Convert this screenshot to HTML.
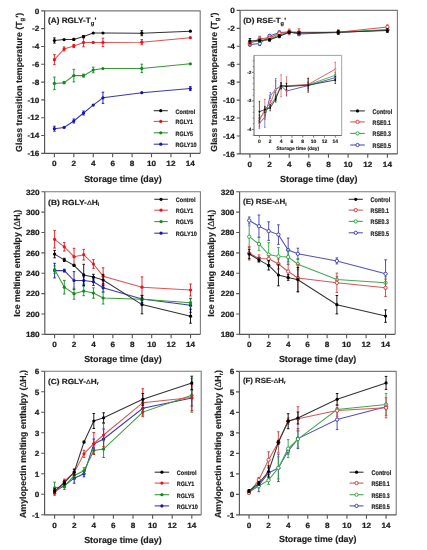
<!DOCTYPE html>
<html><head><meta charset="utf-8"><title>Storage time charts</title>
<style>
html,body{margin:0;padding:0;background:#fff;}
body{width:427px;height:550px;overflow:hidden;}
svg{display:block;filter:blur(0.3px);}
svg text{font-family:"Liberation Sans", sans-serif;text-rendering:geometricPrecision;}
</style></head>
<body>
<svg width="427" height="550" viewBox="0 0 427 550" font-family='"Liberation Sans", sans-serif'>
<rect width="427" height="550" fill="#fff"/>
<g>
<path d="M44.6 10.85H200.2V153.35" fill="none" stroke="#7a7a7a" stroke-width="1.1"/>
<path d="M44.6 10.85V153.35H200.2" fill="none" stroke="#555" stroke-width="1.15"/>
<path d="M41.2 10.85H44.6M41.2 28.66H44.6M41.2 46.48H44.6M41.2 64.29H44.6M41.2 82.1H44.6M41.2 99.91H44.6M41.2 117.72H44.6M41.2 135.54H44.6M41.2 153.35H44.6M54.4 153.35V157.25M73.82 153.35V157.25M93.24 153.35V157.25M112.66 153.35V157.25M132.08 153.35V157.25M151.5 153.35V157.25M170.92 153.35V157.25M190.34 153.35V157.25" stroke="#555" stroke-width="1.1"/>
<text transform="translate(39.4 10.85) scale(1 0.92)" y="2.94" text-anchor="end" font-size="8.2" font-weight="bold" fill="#1e1e1e" stroke="#1e1e1e" stroke-width="0.25">0</text>
<text transform="translate(39.4 28.66) scale(1 0.92)" y="2.94" text-anchor="end" font-size="8.2" font-weight="bold" fill="#1e1e1e" stroke="#1e1e1e" stroke-width="0.25">-2</text>
<text transform="translate(39.4 46.48) scale(1 0.92)" y="2.94" text-anchor="end" font-size="8.2" font-weight="bold" fill="#1e1e1e" stroke="#1e1e1e" stroke-width="0.25">-4</text>
<text transform="translate(39.4 64.29) scale(1 0.92)" y="2.94" text-anchor="end" font-size="8.2" font-weight="bold" fill="#1e1e1e" stroke="#1e1e1e" stroke-width="0.25">-6</text>
<text transform="translate(39.4 82.1) scale(1 0.92)" y="2.94" text-anchor="end" font-size="8.2" font-weight="bold" fill="#1e1e1e" stroke="#1e1e1e" stroke-width="0.25">-8</text>
<text transform="translate(39.4 99.91) scale(1 0.92)" y="2.94" text-anchor="end" font-size="8.2" font-weight="bold" fill="#1e1e1e" stroke="#1e1e1e" stroke-width="0.25">-10</text>
<text transform="translate(39.4 117.72) scale(1 0.92)" y="2.94" text-anchor="end" font-size="8.2" font-weight="bold" fill="#1e1e1e" stroke="#1e1e1e" stroke-width="0.25">-12</text>
<text transform="translate(39.4 135.54) scale(1 0.92)" y="2.94" text-anchor="end" font-size="8.2" font-weight="bold" fill="#1e1e1e" stroke="#1e1e1e" stroke-width="0.25">-14</text>
<text transform="translate(39.4 153.35) scale(1 0.92)" y="2.94" text-anchor="end" font-size="8.2" font-weight="bold" fill="#1e1e1e" stroke="#1e1e1e" stroke-width="0.25">-16</text>
<text transform="translate(54.4 163.68) scale(1 0.92)" y="2.94" text-anchor="middle" font-size="8.2" font-weight="bold" fill="#1e1e1e" stroke="#1e1e1e" stroke-width="0.25">0</text>
<text transform="translate(73.82 163.68) scale(1 0.92)" y="2.94" text-anchor="middle" font-size="8.2" font-weight="bold" fill="#1e1e1e" stroke="#1e1e1e" stroke-width="0.25">2</text>
<text transform="translate(93.24 163.68) scale(1 0.92)" y="2.94" text-anchor="middle" font-size="8.2" font-weight="bold" fill="#1e1e1e" stroke="#1e1e1e" stroke-width="0.25">4</text>
<text transform="translate(112.66 163.68) scale(1 0.92)" y="2.94" text-anchor="middle" font-size="8.2" font-weight="bold" fill="#1e1e1e" stroke="#1e1e1e" stroke-width="0.25">6</text>
<text transform="translate(132.08 163.68) scale(1 0.92)" y="2.94" text-anchor="middle" font-size="8.2" font-weight="bold" fill="#1e1e1e" stroke="#1e1e1e" stroke-width="0.25">8</text>
<text transform="translate(151.5 163.68) scale(1 0.92)" y="2.94" text-anchor="middle" font-size="8.2" font-weight="bold" fill="#1e1e1e" stroke="#1e1e1e" stroke-width="0.25">10</text>
<text transform="translate(170.92 163.68) scale(1 0.92)" y="2.94" text-anchor="middle" font-size="8.2" font-weight="bold" fill="#1e1e1e" stroke="#1e1e1e" stroke-width="0.25">12</text>
<text transform="translate(190.34 163.68) scale(1 0.92)" y="2.94" text-anchor="middle" font-size="8.2" font-weight="bold" fill="#1e1e1e" stroke="#1e1e1e" stroke-width="0.25">14</text>
<text x="122.9" y="181.6" text-anchor="middle" font-size="8.9" font-weight="bold" fill="#1e1e1e" stroke="#1e1e1e" stroke-width="0.15">Storage time (day)</text>
<text transform="translate(21.5 82.3) rotate(-90)" text-anchor="middle" font-size="8.8" font-weight="bold" fill="#1e1e1e" stroke="#1e1e1e" stroke-width="0.15">Glass transition temperature (T<tspan font-size="6" dy="2">g</tspan><tspan dy="-2">')</tspan></text>
<text transform="translate(48.1 23.3) scale(0.97 0.93)" font-size="8.4" font-weight="bold" fill="#1e1e1e" stroke="#1e1e1e" stroke-width="0.2">(A) RGLY-T<tspan font-size="6" dy="2">g</tspan><tspan dy="-2" dx="0.3">'</tspan></text>
<polyline points="54.4,128.7 64.11,127.4 73.82,121 83.53,113 93.24,105.1 102.95,97.8 141.79,92.7 190.34,88.6" fill="none" stroke="#3a3ab2" stroke-width="1.05"/>
<path d="M54.4 126.2V131.2M53.1 126.2H55.7M53.1 131.2H55.7M73.82 119V123M72.52 119H75.12M72.52 123H75.12M83.53 111V115M82.23 111H84.83M82.23 115H84.83M102.95 92.2V103.4M101.65 92.2H104.25M101.65 103.4H104.25M190.34 86.6V90.6M189.04 86.6H191.64M189.04 90.6H191.64" stroke="#1414b4" stroke-width="0.9" fill="none"/>
<circle cx="54.4" cy="128.7" r="1.6" fill="#1414b4"/>
<circle cx="64.11" cy="127.4" r="1.6" fill="#1414b4"/>
<circle cx="73.82" cy="121" r="1.6" fill="#1414b4"/>
<circle cx="83.53" cy="113" r="1.6" fill="#1414b4"/>
<circle cx="93.24" cy="105.1" r="1.6" fill="#1414b4"/>
<circle cx="102.95" cy="97.8" r="1.6" fill="#1414b4"/>
<circle cx="141.79" cy="92.7" r="1.6" fill="#1414b4"/>
<circle cx="190.34" cy="88.6" r="1.6" fill="#1414b4"/>
<polyline points="54.4,83.4 64.11,82.7 73.82,75.6 83.53,75.6 93.24,70 102.95,68.6 141.79,68.4 190.34,63.8" fill="none" stroke="#359a35" stroke-width="1.05"/>
<path d="M54.4 77.1V89.7M53.1 77.1H55.7M53.1 89.7H55.7M64.11 81.7V83.7M62.81 81.7H65.41M62.81 83.7H65.41M73.82 69.3V81.9M72.52 69.3H75.12M72.52 81.9H75.12M83.53 74.1V77.1M82.23 74.1H84.83M82.23 77.1H84.83M93.24 67.2V72.8M91.94 67.2H94.54M91.94 72.8H94.54M141.79 64.2V72.6M140.49 64.2H143.09M140.49 72.6H143.09" stroke="#0f8a1f" stroke-width="0.9" fill="none"/>
<circle cx="54.4" cy="83.4" r="1.6" fill="#0f8a1f"/>
<circle cx="64.11" cy="82.7" r="1.6" fill="#0f8a1f"/>
<circle cx="73.82" cy="75.6" r="1.6" fill="#0f8a1f"/>
<circle cx="83.53" cy="75.6" r="1.6" fill="#0f8a1f"/>
<circle cx="93.24" cy="70" r="1.6" fill="#0f8a1f"/>
<circle cx="102.95" cy="68.6" r="1.6" fill="#0f8a1f"/>
<circle cx="141.79" cy="68.4" r="1.6" fill="#0f8a1f"/>
<circle cx="190.34" cy="63.8" r="1.6" fill="#0f8a1f"/>
<polyline points="54.4,59.65 64.11,48.97 73.82,45.97 83.53,42.4 93.24,42.4 102.95,42.4 141.79,42.2 190.34,37.7" fill="none" stroke="#e25050" stroke-width="1.05"/>
<path d="M54.4 54.65V64.65M53.1 54.65H55.7M53.1 64.65H55.7M64.11 46.97V50.97M62.81 46.97H65.41M62.81 50.97H65.41M73.82 44.47V47.47M72.52 44.47H75.12M72.52 47.47H75.12M83.53 38V46.8M82.23 38H84.83M82.23 46.8H84.83M102.95 38.2V46.6M101.65 38.2H104.25M101.65 46.6H104.25M141.79 39.6V44.8M140.49 39.6H143.09M140.49 44.8H143.09" stroke="#e8141c" stroke-width="0.9" fill="none"/>
<circle cx="54.4" cy="59.65" r="1.6" fill="#e8141c"/>
<circle cx="64.11" cy="48.97" r="1.6" fill="#e8141c"/>
<circle cx="73.82" cy="45.97" r="1.6" fill="#e8141c"/>
<circle cx="83.53" cy="42.4" r="1.6" fill="#e8141c"/>
<circle cx="93.24" cy="42.4" r="1.6" fill="#e8141c"/>
<circle cx="102.95" cy="42.4" r="1.6" fill="#e8141c"/>
<circle cx="141.79" cy="42.2" r="1.6" fill="#e8141c"/>
<circle cx="190.34" cy="37.7" r="1.6" fill="#e8141c"/>
<polyline points="54.4,40.5 64.11,39.6 73.82,39.4 83.53,36.6 93.24,33 102.95,33 141.79,33.2 190.34,31.2" fill="none" stroke="#333333" stroke-width="1.05"/>
<path d="M54.4 37.9V43.1M53.1 37.9H55.7M53.1 43.1H55.7M73.82 38.4V40.4M72.52 38.4H75.12M72.52 40.4H75.12M83.53 35.6V37.6M82.23 35.6H84.83M82.23 37.6H84.83M141.79 30.7V35.7M140.49 30.7H143.09M140.49 35.7H143.09" stroke="#000000" stroke-width="0.9" fill="none"/>
<circle cx="54.4" cy="40.5" r="1.6" fill="#000000"/>
<circle cx="64.11" cy="39.6" r="1.6" fill="#000000"/>
<circle cx="73.82" cy="39.4" r="1.6" fill="#000000"/>
<circle cx="83.53" cy="36.6" r="1.6" fill="#000000"/>
<circle cx="93.24" cy="33" r="1.6" fill="#000000"/>
<circle cx="102.95" cy="33" r="1.6" fill="#000000"/>
<circle cx="141.79" cy="33.2" r="1.6" fill="#000000"/>
<circle cx="190.34" cy="31.2" r="1.6" fill="#000000"/>
<path d="M153.7 110.7H167.8" stroke="#333333" stroke-width="1.1"/>
<circle cx="160.75" cy="110.7" r="1.6" fill="#000000"/>
<text x="175.6" y="113.5" font-size="6.3" font-weight="bold" fill="#1e1e1e" stroke="#1e1e1e" stroke-width="0.2" textLength="19.7" lengthAdjust="spacingAndGlyphs">Control</text>
<path d="M153.7 121.4H167.8" stroke="#e25050" stroke-width="1.1"/>
<circle cx="160.75" cy="121.4" r="1.6" fill="#e8141c"/>
<text x="175.6" y="124.2" font-size="6.3" font-weight="bold" fill="#1e1e1e" stroke="#1e1e1e" stroke-width="0.2" textLength="17.5" lengthAdjust="spacingAndGlyphs">RGLY1</text>
<path d="M153.7 132.8H167.8" stroke="#359a35" stroke-width="1.1"/>
<circle cx="160.75" cy="132.8" r="1.6" fill="#0f8a1f"/>
<text x="175.6" y="135.6" font-size="6.3" font-weight="bold" fill="#1e1e1e" stroke="#1e1e1e" stroke-width="0.2" textLength="17.5" lengthAdjust="spacingAndGlyphs">RGLY5</text>
<path d="M153.7 144.2H167.8" stroke="#3a3ab2" stroke-width="1.1"/>
<circle cx="160.75" cy="144.2" r="1.6" fill="#1414b4"/>
<text x="175.6" y="147" font-size="6.3" font-weight="bold" fill="#1e1e1e" stroke="#1e1e1e" stroke-width="0.2" textLength="21" lengthAdjust="spacingAndGlyphs">RGLY10</text>
</g>
<g>
<path d="M44.8 191.8H200.4V334.3" fill="none" stroke="#7a7a7a" stroke-width="1.1"/>
<path d="M44.8 191.8V334.3H200.4" fill="none" stroke="#555" stroke-width="1.15"/>
<path d="M41.4 191.8H44.8M41.4 212.16H44.8M41.4 232.51H44.8M41.4 252.87H44.8M41.4 273.23H44.8M41.4 293.59H44.8M41.4 313.94H44.8M41.4 334.3H44.8M54.6 334.3V338.2M74.02 334.3V338.2M93.44 334.3V338.2M112.86 334.3V338.2M132.28 334.3V338.2M151.7 334.3V338.2M171.12 334.3V338.2M190.54 334.3V338.2" stroke="#555" stroke-width="1.1"/>
<text transform="translate(39.6 191.8) scale(1 0.92)" y="2.94" text-anchor="end" font-size="8.2" font-weight="bold" fill="#1e1e1e" stroke="#1e1e1e" stroke-width="0.25">320</text>
<text transform="translate(39.6 212.16) scale(1 0.92)" y="2.94" text-anchor="end" font-size="8.2" font-weight="bold" fill="#1e1e1e" stroke="#1e1e1e" stroke-width="0.25">300</text>
<text transform="translate(39.6 232.51) scale(1 0.92)" y="2.94" text-anchor="end" font-size="8.2" font-weight="bold" fill="#1e1e1e" stroke="#1e1e1e" stroke-width="0.25">280</text>
<text transform="translate(39.6 252.87) scale(1 0.92)" y="2.94" text-anchor="end" font-size="8.2" font-weight="bold" fill="#1e1e1e" stroke="#1e1e1e" stroke-width="0.25">260</text>
<text transform="translate(39.6 273.23) scale(1 0.92)" y="2.94" text-anchor="end" font-size="8.2" font-weight="bold" fill="#1e1e1e" stroke="#1e1e1e" stroke-width="0.25">240</text>
<text transform="translate(39.6 293.59) scale(1 0.92)" y="2.94" text-anchor="end" font-size="8.2" font-weight="bold" fill="#1e1e1e" stroke="#1e1e1e" stroke-width="0.25">220</text>
<text transform="translate(39.6 313.94) scale(1 0.92)" y="2.94" text-anchor="end" font-size="8.2" font-weight="bold" fill="#1e1e1e" stroke="#1e1e1e" stroke-width="0.25">200</text>
<text transform="translate(39.6 334.3) scale(1 0.92)" y="2.94" text-anchor="end" font-size="8.2" font-weight="bold" fill="#1e1e1e" stroke="#1e1e1e" stroke-width="0.25">180</text>
<text transform="translate(54.6 344.6) scale(1 0.92)" y="2.94" text-anchor="middle" font-size="8.2" font-weight="bold" fill="#1e1e1e" stroke="#1e1e1e" stroke-width="0.25">0</text>
<text transform="translate(74.02 344.6) scale(1 0.92)" y="2.94" text-anchor="middle" font-size="8.2" font-weight="bold" fill="#1e1e1e" stroke="#1e1e1e" stroke-width="0.25">2</text>
<text transform="translate(93.44 344.6) scale(1 0.92)" y="2.94" text-anchor="middle" font-size="8.2" font-weight="bold" fill="#1e1e1e" stroke="#1e1e1e" stroke-width="0.25">4</text>
<text transform="translate(112.86 344.6) scale(1 0.92)" y="2.94" text-anchor="middle" font-size="8.2" font-weight="bold" fill="#1e1e1e" stroke="#1e1e1e" stroke-width="0.25">6</text>
<text transform="translate(132.28 344.6) scale(1 0.92)" y="2.94" text-anchor="middle" font-size="8.2" font-weight="bold" fill="#1e1e1e" stroke="#1e1e1e" stroke-width="0.25">8</text>
<text transform="translate(151.7 344.6) scale(1 0.92)" y="2.94" text-anchor="middle" font-size="8.2" font-weight="bold" fill="#1e1e1e" stroke="#1e1e1e" stroke-width="0.25">10</text>
<text transform="translate(171.12 344.6) scale(1 0.92)" y="2.94" text-anchor="middle" font-size="8.2" font-weight="bold" fill="#1e1e1e" stroke="#1e1e1e" stroke-width="0.25">12</text>
<text transform="translate(190.54 344.6) scale(1 0.92)" y="2.94" text-anchor="middle" font-size="8.2" font-weight="bold" fill="#1e1e1e" stroke="#1e1e1e" stroke-width="0.25">14</text>
<text x="122.9" y="362.3" text-anchor="middle" font-size="8.9" font-weight="bold" fill="#1e1e1e" stroke="#1e1e1e" stroke-width="0.15">Storage time (day)</text>
<text transform="translate(19.6 263.3) rotate(-90)" text-anchor="middle" font-size="8.8" font-weight="bold" fill="#1e1e1e" stroke="#1e1e1e" stroke-width="0.15">Ice melting enthalpy (<tspan font-weight="normal">&#916;</tspan>H<tspan font-size="6" dy="2">i</tspan><tspan dy="-2">)</tspan></text>
<text transform="translate(48.1 204.7) scale(1.0 0.88)" font-size="8.4" font-weight="bold" fill="#1e1e1e" stroke="#1e1e1e" stroke-width="0.2">(B) RGLY-<tspan font-weight="normal" font-size="7.2">&#916;</tspan>H<tspan font-size="5.2" dy="1.5">i</tspan></text>
<polyline points="54.6,270.6 64.31,270.6 74.02,280.5 83.73,280.5 93.44,281.8 103.15,287.8 141.99,299 190.54,305.3" fill="none" stroke="#3a3ab2" stroke-width="1.05"/>
<path d="M54.6 263.3V277.9M53.3 263.3H55.9M53.3 277.9H55.9M64.31 269.2V272M63.01 269.2H65.61M63.01 272H65.61M74.02 271.6V289.4M72.72 271.6H75.32M72.72 289.4H75.32M83.73 276.8V284.2M82.43 276.8H85.03M82.43 284.2H85.03M93.44 278.1V285.5M92.14 278.1H94.74M92.14 285.5H94.74M103.15 283.6V292M101.85 283.6H104.45M101.85 292H104.45M141.99 295.5V302.5M140.69 295.5H143.29M140.69 302.5H143.29M190.54 298.3V312.3M189.24 298.3H191.84M189.24 312.3H191.84" stroke="#1414b4" stroke-width="0.9" fill="none"/>
<circle cx="54.6" cy="270.6" r="1.6" fill="#1414b4"/>
<circle cx="64.31" cy="270.6" r="1.6" fill="#1414b4"/>
<circle cx="74.02" cy="280.5" r="1.6" fill="#1414b4"/>
<circle cx="83.73" cy="280.5" r="1.6" fill="#1414b4"/>
<circle cx="93.44" cy="281.8" r="1.6" fill="#1414b4"/>
<circle cx="103.15" cy="287.8" r="1.6" fill="#1414b4"/>
<circle cx="141.99" cy="299" r="1.6" fill="#1414b4"/>
<circle cx="190.54" cy="305.3" r="1.6" fill="#1414b4"/>
<polyline points="54.6,269.6 64.31,287.2 74.02,293.7 83.73,291 93.44,293 103.15,298 141.99,299.3 190.54,302.7" fill="none" stroke="#359a35" stroke-width="1.05"/>
<path d="M54.6 265.9V273.3M53.3 265.9H55.9M53.3 273.3H55.9M64.31 280.4V294M63.01 280.4H65.61M63.01 294H65.61M74.02 288.2V299.2M72.72 288.2H75.32M72.72 299.2H75.32M83.73 286.3V295.7M82.43 286.3H85.03M82.43 295.7H85.03M93.44 287.8V298.2M92.14 287.8H94.74M92.14 298.2H94.74M103.15 292V304M101.85 292H104.45M101.85 304H104.45M141.99 298.3V300.3M140.69 298.3H143.29M140.69 300.3H143.29M190.54 298.7V306.7M189.24 298.7H191.84M189.24 306.7H191.84" stroke="#0f8a1f" stroke-width="0.9" fill="none"/>
<circle cx="54.6" cy="269.6" r="1.6" fill="#0f8a1f"/>
<circle cx="64.31" cy="287.2" r="1.6" fill="#0f8a1f"/>
<circle cx="74.02" cy="293.7" r="1.6" fill="#0f8a1f"/>
<circle cx="83.73" cy="291" r="1.6" fill="#0f8a1f"/>
<circle cx="93.44" cy="293" r="1.6" fill="#0f8a1f"/>
<circle cx="103.15" cy="298" r="1.6" fill="#0f8a1f"/>
<circle cx="141.99" cy="299.3" r="1.6" fill="#0f8a1f"/>
<circle cx="190.54" cy="302.7" r="1.6" fill="#0f8a1f"/>
<polyline points="54.6,239.3 64.31,246.8 74.02,256.7 83.73,254.7 93.44,264 103.15,276.2 141.99,287.2 190.54,290" fill="none" stroke="#e25050" stroke-width="1.05"/>
<path d="M54.6 230.6V248M53.3 230.6H55.9M53.3 248H55.9M64.31 242.6V251M63.01 242.6H65.61M63.01 251H65.61M74.02 248.3V265.1M72.72 248.3H75.32M72.72 265.1H75.32M83.73 249.4V260M82.43 249.4H85.03M82.43 260H85.03M93.44 259.7V268.3M92.14 259.7H94.74M92.14 268.3H94.74M103.15 267.8V284.6M101.85 267.8H104.45M101.85 284.6H104.45M141.99 276.9V297.5M140.69 276.9H143.29M140.69 297.5H143.29M190.54 284V296M189.24 284H191.84M189.24 296H191.84" stroke="#e8141c" stroke-width="0.9" fill="none"/>
<circle cx="54.6" cy="239.3" r="1.6" fill="#e8141c"/>
<circle cx="64.31" cy="246.8" r="1.6" fill="#e8141c"/>
<circle cx="74.02" cy="256.7" r="1.6" fill="#e8141c"/>
<circle cx="83.73" cy="254.7" r="1.6" fill="#e8141c"/>
<circle cx="93.44" cy="264" r="1.6" fill="#e8141c"/>
<circle cx="103.15" cy="276.2" r="1.6" fill="#e8141c"/>
<circle cx="141.99" cy="287.2" r="1.6" fill="#e8141c"/>
<circle cx="190.54" cy="290" r="1.6" fill="#e8141c"/>
<polyline points="54.6,254.1 64.31,259.9 74.02,265.3 83.73,274.9 93.44,277.1 103.15,280 141.99,304.6 190.54,316.2" fill="none" stroke="#333333" stroke-width="1.05"/>
<path d="M54.6 250.4V257.8M53.3 250.4H55.9M53.3 257.8H55.9M64.31 258.3V261.5M63.01 258.3H65.61M63.01 261.5H65.61M74.02 264.3V266.3M72.72 264.3H75.32M72.72 266.3H75.32M83.73 264.3V285.5M82.43 264.3H85.03M82.43 285.5H85.03M93.44 274.3V279.9M92.14 274.3H94.74M92.14 279.9H94.74M103.15 274.4V285.6M101.85 274.4H104.45M101.85 285.6H104.45M141.99 295.4V313.8M140.69 295.4H143.29M140.69 313.8H143.29M190.54 309.2V323.2M189.24 309.2H191.84M189.24 323.2H191.84" stroke="#000000" stroke-width="0.9" fill="none"/>
<circle cx="54.6" cy="254.1" r="1.6" fill="#000000"/>
<circle cx="64.31" cy="259.9" r="1.6" fill="#000000"/>
<circle cx="74.02" cy="265.3" r="1.6" fill="#000000"/>
<circle cx="83.73" cy="274.9" r="1.6" fill="#000000"/>
<circle cx="93.44" cy="277.1" r="1.6" fill="#000000"/>
<circle cx="103.15" cy="280" r="1.6" fill="#000000"/>
<circle cx="141.99" cy="304.6" r="1.6" fill="#000000"/>
<circle cx="190.54" cy="316.2" r="1.6" fill="#000000"/>
<path d="M154.3 199.3H167.8" stroke="#333333" stroke-width="1.1"/>
<circle cx="161.05" cy="199.3" r="1.6" fill="#000000"/>
<text x="175.8" y="202.1" font-size="6.3" font-weight="bold" fill="#1e1e1e" stroke="#1e1e1e" stroke-width="0.2" textLength="19.7" lengthAdjust="spacingAndGlyphs">Control</text>
<path d="M154.3 210.2H167.8" stroke="#e25050" stroke-width="1.1"/>
<circle cx="161.05" cy="210.2" r="1.6" fill="#e8141c"/>
<text x="175.8" y="213" font-size="6.3" font-weight="bold" fill="#1e1e1e" stroke="#1e1e1e" stroke-width="0.2" textLength="17.5" lengthAdjust="spacingAndGlyphs">RGLY1</text>
<path d="M154.3 221.6H167.8" stroke="#359a35" stroke-width="1.1"/>
<circle cx="161.05" cy="221.6" r="1.6" fill="#0f8a1f"/>
<text x="175.8" y="224.4" font-size="6.3" font-weight="bold" fill="#1e1e1e" stroke="#1e1e1e" stroke-width="0.2" textLength="17.5" lengthAdjust="spacingAndGlyphs">RGLY5</text>
<path d="M154.3 233.2H167.8" stroke="#3a3ab2" stroke-width="1.1"/>
<circle cx="161.05" cy="233.2" r="1.6" fill="#1414b4"/>
<text x="175.8" y="236" font-size="6.3" font-weight="bold" fill="#1e1e1e" stroke="#1e1e1e" stroke-width="0.2" textLength="21" lengthAdjust="spacingAndGlyphs">RGLY10</text>
</g>
<g>
<path d="M44.6 371.3H201.2V514.8" fill="none" stroke="#7a7a7a" stroke-width="1.1"/>
<path d="M44.6 371.3V514.8H201.2" fill="none" stroke="#555" stroke-width="1.15"/>
<path d="M41.2 371.3H44.6M41.2 391.8H44.6M41.2 412.3H44.6M41.2 432.8H44.6M41.2 453.3H44.6M41.2 473.8H44.6M41.2 494.3H44.6M41.2 514.8H44.6M54.6 514.8V518.7M74.2 514.8V518.7M93.8 514.8V518.7M113.4 514.8V518.7M133 514.8V518.7M152.6 514.8V518.7M172.2 514.8V518.7M191.8 514.8V518.7" stroke="#555" stroke-width="1.1"/>
<text transform="translate(39.4 371.3) scale(1 0.92)" y="2.94" text-anchor="end" font-size="8.2" font-weight="bold" fill="#1e1e1e" stroke="#1e1e1e" stroke-width="0.25">6</text>
<text transform="translate(39.4 391.8) scale(1 0.92)" y="2.94" text-anchor="end" font-size="8.2" font-weight="bold" fill="#1e1e1e" stroke="#1e1e1e" stroke-width="0.25">5</text>
<text transform="translate(39.4 412.3) scale(1 0.92)" y="2.94" text-anchor="end" font-size="8.2" font-weight="bold" fill="#1e1e1e" stroke="#1e1e1e" stroke-width="0.25">4</text>
<text transform="translate(39.4 432.8) scale(1 0.92)" y="2.94" text-anchor="end" font-size="8.2" font-weight="bold" fill="#1e1e1e" stroke="#1e1e1e" stroke-width="0.25">3</text>
<text transform="translate(39.4 453.3) scale(1 0.92)" y="2.94" text-anchor="end" font-size="8.2" font-weight="bold" fill="#1e1e1e" stroke="#1e1e1e" stroke-width="0.25">2</text>
<text transform="translate(39.4 473.8) scale(1 0.92)" y="2.94" text-anchor="end" font-size="8.2" font-weight="bold" fill="#1e1e1e" stroke="#1e1e1e" stroke-width="0.25">1</text>
<text transform="translate(39.4 494.3) scale(1 0.92)" y="2.94" text-anchor="end" font-size="8.2" font-weight="bold" fill="#1e1e1e" stroke="#1e1e1e" stroke-width="0.25">0</text>
<text transform="translate(39.4 514.8) scale(1 0.92)" y="2.94" text-anchor="end" font-size="8.2" font-weight="bold" fill="#1e1e1e" stroke="#1e1e1e" stroke-width="0.25">-1</text>
<text transform="translate(54.6 525.3) scale(1 0.92)" y="2.94" text-anchor="middle" font-size="8.2" font-weight="bold" fill="#1e1e1e" stroke="#1e1e1e" stroke-width="0.25">0</text>
<text transform="translate(74.2 525.3) scale(1 0.92)" y="2.94" text-anchor="middle" font-size="8.2" font-weight="bold" fill="#1e1e1e" stroke="#1e1e1e" stroke-width="0.25">2</text>
<text transform="translate(93.8 525.3) scale(1 0.92)" y="2.94" text-anchor="middle" font-size="8.2" font-weight="bold" fill="#1e1e1e" stroke="#1e1e1e" stroke-width="0.25">4</text>
<text transform="translate(113.4 525.3) scale(1 0.92)" y="2.94" text-anchor="middle" font-size="8.2" font-weight="bold" fill="#1e1e1e" stroke="#1e1e1e" stroke-width="0.25">6</text>
<text transform="translate(133 525.3) scale(1 0.92)" y="2.94" text-anchor="middle" font-size="8.2" font-weight="bold" fill="#1e1e1e" stroke="#1e1e1e" stroke-width="0.25">8</text>
<text transform="translate(152.6 525.3) scale(1 0.92)" y="2.94" text-anchor="middle" font-size="8.2" font-weight="bold" fill="#1e1e1e" stroke="#1e1e1e" stroke-width="0.25">10</text>
<text transform="translate(172.2 525.3) scale(1 0.92)" y="2.94" text-anchor="middle" font-size="8.2" font-weight="bold" fill="#1e1e1e" stroke="#1e1e1e" stroke-width="0.25">12</text>
<text transform="translate(191.8 525.3) scale(1 0.92)" y="2.94" text-anchor="middle" font-size="8.2" font-weight="bold" fill="#1e1e1e" stroke="#1e1e1e" stroke-width="0.25">14</text>
<text x="122.9" y="542.6" text-anchor="middle" font-size="8.9" font-weight="bold" fill="#1e1e1e" stroke="#1e1e1e" stroke-width="0.15">Storage time (day)</text>
<text transform="translate(26.4 444) rotate(-90)" text-anchor="middle" font-size="8.8" font-weight="bold" fill="#1e1e1e" stroke="#1e1e1e" stroke-width="0.15">Amylopectin melting enthalpy (<tspan font-weight="normal">&#916;</tspan>H<tspan font-size="6" dy="2">r</tspan><tspan dy="-2">)</tspan></text>
<text transform="translate(48.1 383.5) scale(0.98 0.88)" font-size="8.4" font-weight="bold" fill="#1e1e1e" stroke="#1e1e1e" stroke-width="0.2">(C) RGLY-<tspan font-weight="normal" font-size="7.2">&#916;</tspan>H<tspan font-size="5.2" dy="1.5">r</tspan></text>
<polyline points="54.6,491.6 64.4,485.6 74.2,478.2 84,473.8 93.8,444 103.6,439 142.8,408.3 191.8,398" fill="none" stroke="#3a3ab2" stroke-width="1.05"/>
<path d="M54.6 489.6V493.6M53.3 489.6H55.9M53.3 493.6H55.9M64.4 483.6V487.6M63.1 483.6H65.7M63.1 487.6H65.7M74.2 473.2V483.2M72.9 473.2H75.5M72.9 483.2H75.5M84 470.8V476.8M82.7 470.8H85.3M82.7 476.8H85.3M93.8 439V449M92.5 439H95.1M92.5 449H95.1M103.6 429V449M102.3 429H104.9M102.3 449H104.9M142.8 405.3V411.3M141.5 405.3H144.1M141.5 411.3H144.1M191.8 390V406M190.5 390H193.1M190.5 406H193.1" stroke="#1414b4" stroke-width="0.9" fill="none"/>
<circle cx="54.6" cy="491.6" r="1.6" fill="#1414b4"/>
<circle cx="64.4" cy="485.6" r="1.6" fill="#1414b4"/>
<circle cx="74.2" cy="478.2" r="1.6" fill="#1414b4"/>
<circle cx="84" cy="473.8" r="1.6" fill="#1414b4"/>
<circle cx="93.8" cy="444" r="1.6" fill="#1414b4"/>
<circle cx="103.6" cy="439" r="1.6" fill="#1414b4"/>
<circle cx="142.8" cy="408.3" r="1.6" fill="#1414b4"/>
<circle cx="191.8" cy="398" r="1.6" fill="#1414b4"/>
<polyline points="54.6,487.8 64.4,486.4 74.2,475.5 84,470.8 93.8,450.6 103.6,449.1 142.8,412.1 191.8,395.2" fill="none" stroke="#359a35" stroke-width="1.05"/>
<path d="M54.6 482.2V493.4M53.3 482.2H55.9M53.3 493.4H55.9M64.4 483.4V489.4M63.1 483.4H65.7M63.1 489.4H65.7M74.2 471.5V479.5M72.9 471.5H75.5M72.9 479.5H75.5M84 467.8V473.8M82.7 467.8H85.3M82.7 473.8H85.3M93.8 447.6V453.6M92.5 447.6H95.1M92.5 453.6H95.1M103.6 440.7V457.5M102.3 440.7H104.9M102.3 457.5H104.9M142.8 409.1V415.1M141.5 409.1H144.1M141.5 415.1H144.1M191.8 378.2V412.2M190.5 378.2H193.1M190.5 412.2H193.1" stroke="#0f8a1f" stroke-width="0.9" fill="none"/>
<circle cx="54.6" cy="487.8" r="1.6" fill="#0f8a1f"/>
<circle cx="64.4" cy="486.4" r="1.6" fill="#0f8a1f"/>
<circle cx="74.2" cy="475.5" r="1.6" fill="#0f8a1f"/>
<circle cx="84" cy="470.8" r="1.6" fill="#0f8a1f"/>
<circle cx="93.8" cy="450.6" r="1.6" fill="#0f8a1f"/>
<circle cx="103.6" cy="449.1" r="1.6" fill="#0f8a1f"/>
<circle cx="142.8" cy="412.1" r="1.6" fill="#0f8a1f"/>
<circle cx="191.8" cy="395.2" r="1.6" fill="#0f8a1f"/>
<polyline points="54.6,493.3 64.4,481.2 74.2,472.5 84,453.8 93.8,443.5 103.6,435 142.8,402.7 191.8,397.5" fill="none" stroke="#e25050" stroke-width="1.05"/>
<path d="M54.6 491.3V495.3M53.3 491.3H55.9M53.3 495.3H55.9M64.4 479.2V483.2M63.1 479.2H65.7M63.1 483.2H65.7M74.2 469.5V475.5M72.9 469.5H75.5M72.9 475.5H75.5M84 450.3V457.3M82.7 450.3H85.3M82.7 457.3H85.3M93.8 432.5V454.5M92.5 432.5H95.1M92.5 454.5H95.1M103.6 423.3V446.7M102.3 423.3H104.9M102.3 446.7H104.9M142.8 388.7V416.7M141.5 388.7H144.1M141.5 416.7H144.1M191.8 384.5V410.5M190.5 384.5H193.1M190.5 410.5H193.1" stroke="#e8141c" stroke-width="0.9" fill="none"/>
<circle cx="54.6" cy="493.3" r="1.6" fill="#e8141c"/>
<circle cx="64.4" cy="481.2" r="1.6" fill="#e8141c"/>
<circle cx="74.2" cy="472.5" r="1.6" fill="#e8141c"/>
<circle cx="84" cy="453.8" r="1.6" fill="#e8141c"/>
<circle cx="93.8" cy="443.5" r="1.6" fill="#e8141c"/>
<circle cx="103.6" cy="435" r="1.6" fill="#e8141c"/>
<circle cx="142.8" cy="402.7" r="1.6" fill="#e8141c"/>
<circle cx="191.8" cy="397.5" r="1.6" fill="#e8141c"/>
<polyline points="54.6,490.8 64.4,482.9 74.2,472 84,442 93.8,421 103.6,417.8 142.8,399.3 191.8,382.9" fill="none" stroke="#333333" stroke-width="1.05"/>
<path d="M54.6 488.8V492.8M53.3 488.8H55.9M53.3 492.8H55.9M64.4 480.9V484.9M63.1 480.9H65.7M63.1 484.9H65.7M74.2 469V475M72.9 469H75.5M72.9 475H75.5M84 441V443M82.7 441H85.3M82.7 443H85.3M93.8 413.5V428.5M92.5 413.5H95.1M92.5 428.5H95.1M103.6 412.8V422.8M102.3 412.8H104.9M102.3 422.8H104.9M142.8 393.5V405.1M141.5 393.5H144.1M141.5 405.1H144.1M191.8 376.2V389.6M190.5 376.2H193.1M190.5 389.6H193.1" stroke="#000000" stroke-width="0.9" fill="none"/>
<circle cx="54.6" cy="490.8" r="1.6" fill="#000000"/>
<circle cx="64.4" cy="482.9" r="1.6" fill="#000000"/>
<circle cx="74.2" cy="472" r="1.6" fill="#000000"/>
<circle cx="84" cy="442" r="1.6" fill="#000000"/>
<circle cx="93.8" cy="421" r="1.6" fill="#000000"/>
<circle cx="103.6" cy="417.8" r="1.6" fill="#000000"/>
<circle cx="142.8" cy="399.3" r="1.6" fill="#000000"/>
<circle cx="191.8" cy="382.9" r="1.6" fill="#000000"/>
<path d="M154.7 472.2H169.1" stroke="#333333" stroke-width="1.1"/>
<circle cx="161.9" cy="472.2" r="1.6" fill="#000000"/>
<text x="176.8" y="475" font-size="6.3" font-weight="bold" fill="#1e1e1e" stroke="#1e1e1e" stroke-width="0.2" textLength="19.7" lengthAdjust="spacingAndGlyphs">Control</text>
<path d="M154.7 483.1H169.1" stroke="#e25050" stroke-width="1.1"/>
<circle cx="161.9" cy="483.1" r="1.6" fill="#e8141c"/>
<text x="176.8" y="485.9" font-size="6.3" font-weight="bold" fill="#1e1e1e" stroke="#1e1e1e" stroke-width="0.2" textLength="17.5" lengthAdjust="spacingAndGlyphs">RGLY1</text>
<path d="M154.7 494.7H169.1" stroke="#359a35" stroke-width="1.1"/>
<circle cx="161.9" cy="494.7" r="1.6" fill="#0f8a1f"/>
<text x="176.8" y="497.5" font-size="6.3" font-weight="bold" fill="#1e1e1e" stroke="#1e1e1e" stroke-width="0.2" textLength="17.5" lengthAdjust="spacingAndGlyphs">RGLY5</text>
<path d="M154.7 505.9H169.1" stroke="#3a3ab2" stroke-width="1.1"/>
<circle cx="161.9" cy="505.9" r="1.6" fill="#1414b4"/>
<text x="176.8" y="508.7" font-size="6.3" font-weight="bold" fill="#1e1e1e" stroke="#1e1e1e" stroke-width="0.2" textLength="21" lengthAdjust="spacingAndGlyphs">RGLY10</text>
</g>
<g>
<path d="M240.1 10.4H397.4V153.9" fill="none" stroke="#7a7a7a" stroke-width="1.1"/>
<path d="M240.1 10.4V153.9H397.4" fill="none" stroke="#555" stroke-width="1.15"/>
<path d="M236.7 10.4H240.1M236.7 28.34H240.1M236.7 46.27H240.1M236.7 64.21H240.1M236.7 82.15H240.1M236.7 100.09H240.1M236.7 118.03H240.1M236.7 135.96H240.1M236.7 153.9H240.1M249.9 153.9V157.8M269.54 153.9V157.8M289.18 153.9V157.8M308.82 153.9V157.8M328.46 153.9V157.8M348.1 153.9V157.8M367.74 153.9V157.8M387.38 153.9V157.8" stroke="#555" stroke-width="1.1"/>
<text transform="translate(234.9 10.4) scale(1 0.92)" y="2.94" text-anchor="end" font-size="8.2" font-weight="bold" fill="#1e1e1e" stroke="#1e1e1e" stroke-width="0.25">0</text>
<text transform="translate(234.9 28.34) scale(1 0.92)" y="2.94" text-anchor="end" font-size="8.2" font-weight="bold" fill="#1e1e1e" stroke="#1e1e1e" stroke-width="0.25">-2</text>
<text transform="translate(234.9 46.27) scale(1 0.92)" y="2.94" text-anchor="end" font-size="8.2" font-weight="bold" fill="#1e1e1e" stroke="#1e1e1e" stroke-width="0.25">-4</text>
<text transform="translate(234.9 64.21) scale(1 0.92)" y="2.94" text-anchor="end" font-size="8.2" font-weight="bold" fill="#1e1e1e" stroke="#1e1e1e" stroke-width="0.25">-6</text>
<text transform="translate(234.9 82.15) scale(1 0.92)" y="2.94" text-anchor="end" font-size="8.2" font-weight="bold" fill="#1e1e1e" stroke="#1e1e1e" stroke-width="0.25">-8</text>
<text transform="translate(234.9 100.09) scale(1 0.92)" y="2.94" text-anchor="end" font-size="8.2" font-weight="bold" fill="#1e1e1e" stroke="#1e1e1e" stroke-width="0.25">-10</text>
<text transform="translate(234.9 118.03) scale(1 0.92)" y="2.94" text-anchor="end" font-size="8.2" font-weight="bold" fill="#1e1e1e" stroke="#1e1e1e" stroke-width="0.25">-12</text>
<text transform="translate(234.9 135.96) scale(1 0.92)" y="2.94" text-anchor="end" font-size="8.2" font-weight="bold" fill="#1e1e1e" stroke="#1e1e1e" stroke-width="0.25">-14</text>
<text transform="translate(234.9 153.9) scale(1 0.92)" y="2.94" text-anchor="end" font-size="8.2" font-weight="bold" fill="#1e1e1e" stroke="#1e1e1e" stroke-width="0.25">-16</text>
<text transform="translate(249.9 164.34) scale(1 0.92)" y="2.94" text-anchor="middle" font-size="8.2" font-weight="bold" fill="#1e1e1e" stroke="#1e1e1e" stroke-width="0.25">0</text>
<text transform="translate(269.54 164.34) scale(1 0.92)" y="2.94" text-anchor="middle" font-size="8.2" font-weight="bold" fill="#1e1e1e" stroke="#1e1e1e" stroke-width="0.25">2</text>
<text transform="translate(289.18 164.34) scale(1 0.92)" y="2.94" text-anchor="middle" font-size="8.2" font-weight="bold" fill="#1e1e1e" stroke="#1e1e1e" stroke-width="0.25">4</text>
<text transform="translate(308.82 164.34) scale(1 0.92)" y="2.94" text-anchor="middle" font-size="8.2" font-weight="bold" fill="#1e1e1e" stroke="#1e1e1e" stroke-width="0.25">6</text>
<text transform="translate(328.46 164.34) scale(1 0.92)" y="2.94" text-anchor="middle" font-size="8.2" font-weight="bold" fill="#1e1e1e" stroke="#1e1e1e" stroke-width="0.25">8</text>
<text transform="translate(348.1 164.34) scale(1 0.92)" y="2.94" text-anchor="middle" font-size="8.2" font-weight="bold" fill="#1e1e1e" stroke="#1e1e1e" stroke-width="0.25">10</text>
<text transform="translate(367.74 164.34) scale(1 0.92)" y="2.94" text-anchor="middle" font-size="8.2" font-weight="bold" fill="#1e1e1e" stroke="#1e1e1e" stroke-width="0.25">12</text>
<text transform="translate(387.38 164.34) scale(1 0.92)" y="2.94" text-anchor="middle" font-size="8.2" font-weight="bold" fill="#1e1e1e" stroke="#1e1e1e" stroke-width="0.25">14</text>
<text x="318.75" y="181.6" text-anchor="middle" font-size="8.9" font-weight="bold" fill="#1e1e1e" stroke="#1e1e1e" stroke-width="0.15">Storage time (day)</text>
<text transform="translate(217.2 82.1) rotate(-90)" text-anchor="middle" font-size="8.8" font-weight="bold" fill="#1e1e1e" stroke="#1e1e1e" stroke-width="0.15">Glass transition temperature (T<tspan font-size="6" dy="2">g</tspan><tspan dy="-2">')</tspan></text>
<text transform="translate(243.2 22.8) scale(0.956 0.88)" font-size="8.4" font-weight="bold" fill="#1e1e1e" stroke="#1e1e1e" stroke-width="0.2">(D) RSE-T<tspan font-size="6" dy="2">g</tspan><tspan dy="-2" dx="0.3">'</tspan></text>
<polyline points="249.9,44.6 259.72,43.6 269.54,35.9 279.36,32.5 289.18,32 299,34 338.28,32.4 387.38,29.9" fill="none" stroke="#5252c0" stroke-width="1.05"/>
<path d="M249.9 43.1V46.1M248.6 43.1H251.2M248.6 46.1H251.2M259.72 41.6V45.6M258.42 41.6H261.02M258.42 45.6H261.02M269.54 34.4V37.4M268.24 34.4H270.84M268.24 37.4H270.84M279.36 31V34M278.06 31H280.66M278.06 34H280.66M289.18 31V33M287.88 31H290.48M287.88 33H290.48M299 32.5V35.5M297.7 32.5H300.3M297.7 35.5H300.3M338.28 31.4V33.4M336.98 31.4H339.58M336.98 33.4H339.58M387.38 28.9V30.9M386.08 28.9H388.68M386.08 30.9H388.68" stroke="#3c3cb8" stroke-width="0.9" fill="none"/>
<circle cx="249.9" cy="44.6" r="1.65" fill="#fff" stroke="#3c3cb8" stroke-width="0.95"/>
<circle cx="259.72" cy="43.6" r="1.65" fill="#fff" stroke="#3c3cb8" stroke-width="0.95"/>
<circle cx="269.54" cy="35.9" r="1.65" fill="#fff" stroke="#3c3cb8" stroke-width="0.95"/>
<circle cx="279.36" cy="32.5" r="1.65" fill="#fff" stroke="#3c3cb8" stroke-width="0.95"/>
<circle cx="289.18" cy="32" r="1.65" fill="#fff" stroke="#3c3cb8" stroke-width="0.95"/>
<circle cx="299" cy="34" r="1.65" fill="#fff" stroke="#3c3cb8" stroke-width="0.95"/>
<circle cx="338.28" cy="32.4" r="1.65" fill="#fff" stroke="#3c3cb8" stroke-width="0.95"/>
<circle cx="387.38" cy="29.9" r="1.65" fill="#fff" stroke="#3c3cb8" stroke-width="0.95"/>
<polyline points="249.9,42.5 259.72,40.8 269.54,39 279.36,35 289.18,32.2 299,32.7 338.28,32.2 387.38,29.6" fill="none" stroke="#44a850" stroke-width="1.05"/>
<path d="M249.9 41V44M248.6 41H251.2M248.6 44H251.2M259.72 39.3V42.3M258.42 39.3H261.02M258.42 42.3H261.02M269.54 37.5V40.5M268.24 37.5H270.84M268.24 40.5H270.84M279.36 33.5V36.5M278.06 33.5H280.66M278.06 36.5H280.66M289.18 31.2V33.2M287.88 31.2H290.48M287.88 33.2H290.48M299 31.7V33.7M297.7 31.7H300.3M297.7 33.7H300.3M338.28 31.2V33.2M336.98 31.2H339.58M336.98 33.2H339.58M387.38 28.6V30.6M386.08 28.6H388.68M386.08 30.6H388.68" stroke="#2ea03a" stroke-width="0.9" fill="none"/>
<circle cx="249.9" cy="42.5" r="1.65" fill="#fff" stroke="#2ea03a" stroke-width="0.95"/>
<circle cx="259.72" cy="40.8" r="1.65" fill="#fff" stroke="#2ea03a" stroke-width="0.95"/>
<circle cx="269.54" cy="39" r="1.65" fill="#fff" stroke="#2ea03a" stroke-width="0.95"/>
<circle cx="279.36" cy="35" r="1.65" fill="#fff" stroke="#2ea03a" stroke-width="0.95"/>
<circle cx="289.18" cy="32.2" r="1.65" fill="#fff" stroke="#2ea03a" stroke-width="0.95"/>
<circle cx="299" cy="32.7" r="1.65" fill="#fff" stroke="#2ea03a" stroke-width="0.95"/>
<circle cx="338.28" cy="32.2" r="1.65" fill="#fff" stroke="#2ea03a" stroke-width="0.95"/>
<circle cx="387.38" cy="29.6" r="1.65" fill="#fff" stroke="#2ea03a" stroke-width="0.95"/>
<polyline points="249.9,43.2 259.72,38.8 269.54,37.8 279.36,33.5 289.18,31.9 299,32.3 338.28,32.2 387.38,26.9" fill="none" stroke="#d85656" stroke-width="1.05"/>
<path d="M249.9 41.2V45.2M248.6 41.2H251.2M248.6 45.2H251.2M259.72 36.3V41.3M258.42 36.3H261.02M258.42 41.3H261.02M269.54 36.3V39.3M268.24 36.3H270.84M268.24 39.3H270.84M279.36 32V35M278.06 32H280.66M278.06 35H280.66M289.18 29.1V34.7M287.88 29.1H290.48M287.88 34.7H290.48M299 28.8V35.8M297.7 28.8H300.3M297.7 35.8H300.3M338.28 30.2V34.2M336.98 30.2H339.58M336.98 34.2H339.58M387.38 24.9V28.9M386.08 24.9H388.68M386.08 28.9H388.68" stroke="#d63a3a" stroke-width="0.9" fill="none"/>
<circle cx="249.9" cy="43.2" r="1.65" fill="#fff" stroke="#d63a3a" stroke-width="0.95"/>
<circle cx="259.72" cy="38.8" r="1.65" fill="#fff" stroke="#d63a3a" stroke-width="0.95"/>
<circle cx="269.54" cy="37.8" r="1.65" fill="#fff" stroke="#d63a3a" stroke-width="0.95"/>
<circle cx="279.36" cy="33.5" r="1.65" fill="#fff" stroke="#d63a3a" stroke-width="0.95"/>
<circle cx="289.18" cy="31.9" r="1.65" fill="#fff" stroke="#d63a3a" stroke-width="0.95"/>
<circle cx="299" cy="32.3" r="1.65" fill="#fff" stroke="#d63a3a" stroke-width="0.95"/>
<circle cx="338.28" cy="32.2" r="1.65" fill="#fff" stroke="#d63a3a" stroke-width="0.95"/>
<circle cx="387.38" cy="26.9" r="1.65" fill="#fff" stroke="#d63a3a" stroke-width="0.95"/>
<polyline points="249.9,41.1 259.72,40.4 269.54,39.7 279.36,36.2 289.18,32.2 299,32.9 338.28,32.2 387.38,30.6" fill="none" stroke="#333333" stroke-width="1.05"/>
<path d="M249.9 38.6V43.6M248.6 38.6H251.2M248.6 43.6H251.2M259.72 38.9V41.9M258.42 38.9H261.02M258.42 41.9H261.02M269.54 38.2V41.2M268.24 38.2H270.84M268.24 41.2H270.84M279.36 34.7V37.7M278.06 34.7H280.66M278.06 37.7H280.66M289.18 31.2V33.2M287.88 31.2H290.48M287.88 33.2H290.48M299 31.9V33.9M297.7 31.9H300.3M297.7 33.9H300.3M338.28 30.2V34.2M336.98 30.2H339.58M336.98 34.2H339.58M387.38 28.8V32.4M386.08 28.8H388.68M386.08 32.4H388.68" stroke="#000000" stroke-width="0.9" fill="none"/>
<circle cx="249.9" cy="41.1" r="1.6" fill="#000000"/>
<circle cx="259.72" cy="40.4" r="1.6" fill="#000000"/>
<circle cx="269.54" cy="39.7" r="1.6" fill="#000000"/>
<circle cx="279.36" cy="36.2" r="1.6" fill="#000000"/>
<circle cx="289.18" cy="32.2" r="1.6" fill="#000000"/>
<circle cx="299" cy="32.9" r="1.6" fill="#000000"/>
<circle cx="338.28" cy="32.2" r="1.6" fill="#000000"/>
<circle cx="387.38" cy="30.6" r="1.6" fill="#000000"/>
<path d="M350.2 110.9H364.8" stroke="#333333" stroke-width="1.1"/>
<circle cx="357.5" cy="110.9" r="1.6" fill="#000000"/>
<text x="372.6" y="113.9" font-size="6.7" font-weight="bold" fill="#1e1e1e" stroke="#1e1e1e" stroke-width="0.2" textLength="19.7" lengthAdjust="spacingAndGlyphs">Control</text>
<path d="M350.2 121.9H364.8" stroke="#d85656" stroke-width="1.1"/>
<circle cx="357.5" cy="121.9" r="1.65" fill="#fff" stroke="#d63a3a" stroke-width="0.95"/>
<text x="372.6" y="124.9" font-size="6.7" font-weight="bold" fill="#1e1e1e" stroke="#1e1e1e" stroke-width="0.2" textLength="18.3" lengthAdjust="spacingAndGlyphs">RSE0.1</text>
<path d="M350.2 133.4H364.8" stroke="#44a850" stroke-width="1.1"/>
<circle cx="357.5" cy="133.4" r="1.65" fill="#fff" stroke="#2ea03a" stroke-width="0.95"/>
<text x="372.6" y="136.4" font-size="6.7" font-weight="bold" fill="#1e1e1e" stroke="#1e1e1e" stroke-width="0.2" textLength="18.3" lengthAdjust="spacingAndGlyphs">RSE0.3</text>
<path d="M350.2 145H364.8" stroke="#5252c0" stroke-width="1.1"/>
<circle cx="357.5" cy="145" r="1.65" fill="#fff" stroke="#3c3cb8" stroke-width="0.95"/>
<text x="372.6" y="148" font-size="6.7" font-weight="bold" fill="#1e1e1e" stroke="#1e1e1e" stroke-width="0.2" textLength="18.3" lengthAdjust="spacingAndGlyphs">RSE0.5</text>
</g>
<g>
<path d="M239.6 191.8H395.2V334.3" fill="none" stroke="#7a7a7a" stroke-width="1.1"/>
<path d="M239.6 191.8V334.3H395.2" fill="none" stroke="#555" stroke-width="1.15"/>
<path d="M236.2 191.8H239.6M236.2 212.16H239.6M236.2 232.51H239.6M236.2 252.87H239.6M236.2 273.23H239.6M236.2 293.59H239.6M236.2 313.94H239.6M236.2 334.3H239.6M249.2 334.3V338.2M268.68 334.3V338.2M288.16 334.3V338.2M307.64 334.3V338.2M327.12 334.3V338.2M346.6 334.3V338.2M366.08 334.3V338.2M385.56 334.3V338.2" stroke="#555" stroke-width="1.1"/>
<text transform="translate(234.4 191.8) scale(1 0.92)" y="2.94" text-anchor="end" font-size="8.2" font-weight="bold" fill="#1e1e1e" stroke="#1e1e1e" stroke-width="0.25">320</text>
<text transform="translate(234.4 212.16) scale(1 0.92)" y="2.94" text-anchor="end" font-size="8.2" font-weight="bold" fill="#1e1e1e" stroke="#1e1e1e" stroke-width="0.25">300</text>
<text transform="translate(234.4 232.51) scale(1 0.92)" y="2.94" text-anchor="end" font-size="8.2" font-weight="bold" fill="#1e1e1e" stroke="#1e1e1e" stroke-width="0.25">280</text>
<text transform="translate(234.4 252.87) scale(1 0.92)" y="2.94" text-anchor="end" font-size="8.2" font-weight="bold" fill="#1e1e1e" stroke="#1e1e1e" stroke-width="0.25">260</text>
<text transform="translate(234.4 273.23) scale(1 0.92)" y="2.94" text-anchor="end" font-size="8.2" font-weight="bold" fill="#1e1e1e" stroke="#1e1e1e" stroke-width="0.25">240</text>
<text transform="translate(234.4 293.59) scale(1 0.92)" y="2.94" text-anchor="end" font-size="8.2" font-weight="bold" fill="#1e1e1e" stroke="#1e1e1e" stroke-width="0.25">220</text>
<text transform="translate(234.4 313.94) scale(1 0.92)" y="2.94" text-anchor="end" font-size="8.2" font-weight="bold" fill="#1e1e1e" stroke="#1e1e1e" stroke-width="0.25">200</text>
<text transform="translate(234.4 334.3) scale(1 0.92)" y="2.94" text-anchor="end" font-size="8.2" font-weight="bold" fill="#1e1e1e" stroke="#1e1e1e" stroke-width="0.25">180</text>
<text transform="translate(249.2 344.18) scale(1 0.92)" y="2.94" text-anchor="middle" font-size="8.2" font-weight="bold" fill="#1e1e1e" stroke="#1e1e1e" stroke-width="0.25">0</text>
<text transform="translate(268.68 344.18) scale(1 0.92)" y="2.94" text-anchor="middle" font-size="8.2" font-weight="bold" fill="#1e1e1e" stroke="#1e1e1e" stroke-width="0.25">2</text>
<text transform="translate(288.16 344.18) scale(1 0.92)" y="2.94" text-anchor="middle" font-size="8.2" font-weight="bold" fill="#1e1e1e" stroke="#1e1e1e" stroke-width="0.25">4</text>
<text transform="translate(307.64 344.18) scale(1 0.92)" y="2.94" text-anchor="middle" font-size="8.2" font-weight="bold" fill="#1e1e1e" stroke="#1e1e1e" stroke-width="0.25">6</text>
<text transform="translate(327.12 344.18) scale(1 0.92)" y="2.94" text-anchor="middle" font-size="8.2" font-weight="bold" fill="#1e1e1e" stroke="#1e1e1e" stroke-width="0.25">8</text>
<text transform="translate(346.6 344.18) scale(1 0.92)" y="2.94" text-anchor="middle" font-size="8.2" font-weight="bold" fill="#1e1e1e" stroke="#1e1e1e" stroke-width="0.25">10</text>
<text transform="translate(366.08 344.18) scale(1 0.92)" y="2.94" text-anchor="middle" font-size="8.2" font-weight="bold" fill="#1e1e1e" stroke="#1e1e1e" stroke-width="0.25">12</text>
<text transform="translate(385.56 344.18) scale(1 0.92)" y="2.94" text-anchor="middle" font-size="8.2" font-weight="bold" fill="#1e1e1e" stroke="#1e1e1e" stroke-width="0.25">14</text>
<text x="317.6" y="362" text-anchor="middle" font-size="8.9" font-weight="bold" fill="#1e1e1e" stroke="#1e1e1e" stroke-width="0.15">Storage time (day)</text>
<text transform="translate(214.2 263.3) rotate(-90)" text-anchor="middle" font-size="8.8" font-weight="bold" fill="#1e1e1e" stroke="#1e1e1e" stroke-width="0.15">Ice melting enthalpy (<tspan font-weight="normal">&#916;</tspan>H<tspan font-size="6" dy="2">i</tspan><tspan dy="-2">)</tspan></text>
<text transform="translate(243 204.2) scale(0.95 0.88)" font-size="8.4" font-weight="bold" fill="#1e1e1e" stroke="#1e1e1e" stroke-width="0.2">(E) RSE-<tspan font-weight="normal" font-size="7.2">&#916;</tspan>H<tspan font-size="5.2" dy="1.5">i</tspan></text>
<polyline points="249.2,220.5 258.94,226.2 268.68,231.1 278.42,234.6 288.16,250 297.9,253.8 336.86,260.9 385.56,273.8" fill="none" stroke="#5252c0" stroke-width="1.05"/>
<path d="M249.2 217V224M247.9 217H250.5M247.9 224H250.5M258.94 215V237.4M257.64 215H260.24M257.64 237.4H260.24M268.68 221.8V240.4M267.38 221.8H269.98M267.38 240.4H269.98M278.42 224.8V244.4M277.12 224.8H279.72M277.12 244.4H279.72M288.16 238V262M286.86 238H289.46M286.86 262H289.46M297.9 248.2V259.4M296.6 248.2H299.2M296.6 259.4H299.2M336.86 257.9V263.9M335.56 257.9H338.16M335.56 263.9H338.16M385.56 259.8V287.8M384.26 259.8H386.86M384.26 287.8H386.86" stroke="#3c3cb8" stroke-width="0.9" fill="none"/>
<circle cx="249.2" cy="220.5" r="1.65" fill="#fff" stroke="#3c3cb8" stroke-width="0.95"/>
<circle cx="258.94" cy="226.2" r="1.65" fill="#fff" stroke="#3c3cb8" stroke-width="0.95"/>
<circle cx="268.68" cy="231.1" r="1.65" fill="#fff" stroke="#3c3cb8" stroke-width="0.95"/>
<circle cx="278.42" cy="234.6" r="1.65" fill="#fff" stroke="#3c3cb8" stroke-width="0.95"/>
<circle cx="288.16" cy="250" r="1.65" fill="#fff" stroke="#3c3cb8" stroke-width="0.95"/>
<circle cx="297.9" cy="253.8" r="1.65" fill="#fff" stroke="#3c3cb8" stroke-width="0.95"/>
<circle cx="336.86" cy="260.9" r="1.65" fill="#fff" stroke="#3c3cb8" stroke-width="0.95"/>
<circle cx="385.56" cy="273.8" r="1.65" fill="#fff" stroke="#3c3cb8" stroke-width="0.95"/>
<polyline points="249.2,236.7 258.94,244 268.68,254.6 278.42,256.4 288.16,257 297.9,264.2 336.86,279.6 385.56,282.8" fill="none" stroke="#44a850" stroke-width="1.05"/>
<path d="M249.2 225.8V247.6M247.9 225.8H250.5M247.9 247.6H250.5M258.94 237.3V250.7M257.64 237.3H260.24M257.64 250.7H260.24M268.68 242.6V266.6M267.38 242.6H269.98M267.38 266.6H269.98M278.42 247.6V265.2M277.12 247.6H279.72M277.12 265.2H279.72M288.16 250V264M286.86 250H289.46M286.86 264H289.46M297.9 258.6V269.8M296.6 258.6H299.2M296.6 269.8H299.2M336.86 276.6V282.6M335.56 276.6H338.16M335.56 282.6H338.16M385.56 276.8V288.8M384.26 276.8H386.86M384.26 288.8H386.86" stroke="#2ea03a" stroke-width="0.9" fill="none"/>
<circle cx="249.2" cy="236.7" r="1.65" fill="#fff" stroke="#2ea03a" stroke-width="0.95"/>
<circle cx="258.94" cy="244" r="1.65" fill="#fff" stroke="#2ea03a" stroke-width="0.95"/>
<circle cx="268.68" cy="254.6" r="1.65" fill="#fff" stroke="#2ea03a" stroke-width="0.95"/>
<circle cx="278.42" cy="256.4" r="1.65" fill="#fff" stroke="#2ea03a" stroke-width="0.95"/>
<circle cx="288.16" cy="257" r="1.65" fill="#fff" stroke="#2ea03a" stroke-width="0.95"/>
<circle cx="297.9" cy="264.2" r="1.65" fill="#fff" stroke="#2ea03a" stroke-width="0.95"/>
<circle cx="336.86" cy="279.6" r="1.65" fill="#fff" stroke="#2ea03a" stroke-width="0.95"/>
<circle cx="385.56" cy="282.8" r="1.65" fill="#fff" stroke="#2ea03a" stroke-width="0.95"/>
<polyline points="249.2,253.3 258.94,258.4 268.68,258.8 278.42,264 288.16,271.5 297.9,278 336.86,282.8 385.56,287.8" fill="none" stroke="#d85656" stroke-width="1.05"/>
<path d="M249.2 246.6V260M247.9 246.6H250.5M247.9 260H250.5M258.94 254.9V261.9M257.64 254.9H260.24M257.64 261.9H260.24M268.68 255.8V261.8M267.38 255.8H269.98M267.38 261.8H269.98M278.42 259V269M277.12 259H279.72M277.12 269H279.72M288.16 264.5V278.5M286.86 264.5H289.46M286.86 278.5H289.46M297.9 264.4V291.6M296.6 264.4H299.2M296.6 291.6H299.2M336.86 273.1V292.5M335.56 273.1H338.16M335.56 292.5H338.16M385.56 279.1V296.5M384.26 279.1H386.86M384.26 296.5H386.86" stroke="#d63a3a" stroke-width="0.9" fill="none"/>
<circle cx="249.2" cy="253.3" r="1.65" fill="#fff" stroke="#d63a3a" stroke-width="0.95"/>
<circle cx="258.94" cy="258.4" r="1.65" fill="#fff" stroke="#d63a3a" stroke-width="0.95"/>
<circle cx="268.68" cy="258.8" r="1.65" fill="#fff" stroke="#d63a3a" stroke-width="0.95"/>
<circle cx="278.42" cy="264" r="1.65" fill="#fff" stroke="#d63a3a" stroke-width="0.95"/>
<circle cx="288.16" cy="271.5" r="1.65" fill="#fff" stroke="#d63a3a" stroke-width="0.95"/>
<circle cx="297.9" cy="278" r="1.65" fill="#fff" stroke="#d63a3a" stroke-width="0.95"/>
<circle cx="336.86" cy="282.8" r="1.65" fill="#fff" stroke="#d63a3a" stroke-width="0.95"/>
<circle cx="385.56" cy="287.8" r="1.65" fill="#fff" stroke="#d63a3a" stroke-width="0.95"/>
<polyline points="249.2,254 258.94,259.9 268.68,265.3 278.42,275 288.16,277.5 297.9,279.7 336.86,304.7 385.56,316.1" fill="none" stroke="#333333" stroke-width="1.05"/>
<path d="M249.2 249.3V258.7M247.9 249.3H250.5M247.9 258.7H250.5M258.94 257.9V261.9M257.64 257.9H260.24M257.64 261.9H260.24M268.68 260.6V270M267.38 260.6H269.98M267.38 270H269.98M278.42 264.2V285.8M277.12 264.2H279.72M277.12 285.8H279.72M288.16 274.7V280.3M286.86 274.7H289.46M286.86 280.3H289.46M297.9 267.5V291.9M296.6 267.5H299.2M296.6 291.9H299.2M336.86 295.5V313.9M335.56 295.5H338.16M335.56 313.9H338.16M385.56 309.9V322.3M384.26 309.9H386.86M384.26 322.3H386.86" stroke="#000000" stroke-width="0.9" fill="none"/>
<circle cx="249.2" cy="254" r="1.6" fill="#000000"/>
<circle cx="258.94" cy="259.9" r="1.6" fill="#000000"/>
<circle cx="268.68" cy="265.3" r="1.6" fill="#000000"/>
<circle cx="278.42" cy="275" r="1.6" fill="#000000"/>
<circle cx="288.16" cy="277.5" r="1.6" fill="#000000"/>
<circle cx="297.9" cy="279.7" r="1.6" fill="#000000"/>
<circle cx="336.86" cy="304.7" r="1.6" fill="#000000"/>
<circle cx="385.56" cy="316.1" r="1.6" fill="#000000"/>
<path d="M348.7 199.3H362.8" stroke="#333333" stroke-width="1.1"/>
<circle cx="355.75" cy="199.3" r="1.6" fill="#000000"/>
<text x="370.6" y="202.3" font-size="6.7" font-weight="bold" fill="#1e1e1e" stroke="#1e1e1e" stroke-width="0.2" textLength="19.7" lengthAdjust="spacingAndGlyphs">Control</text>
<path d="M348.7 210.1H362.8" stroke="#d85656" stroke-width="1.1"/>
<circle cx="355.75" cy="210.1" r="1.65" fill="#fff" stroke="#d63a3a" stroke-width="0.95"/>
<text x="370.6" y="213.1" font-size="6.7" font-weight="bold" fill="#1e1e1e" stroke="#1e1e1e" stroke-width="0.2" textLength="18.3" lengthAdjust="spacingAndGlyphs">RSE0.1</text>
<path d="M348.7 221.4H362.8" stroke="#44a850" stroke-width="1.1"/>
<circle cx="355.75" cy="221.4" r="1.65" fill="#fff" stroke="#2ea03a" stroke-width="0.95"/>
<text x="370.6" y="224.4" font-size="6.7" font-weight="bold" fill="#1e1e1e" stroke="#1e1e1e" stroke-width="0.2" textLength="18.3" lengthAdjust="spacingAndGlyphs">RSE0.3</text>
<path d="M348.7 232.8H362.8" stroke="#5252c0" stroke-width="1.1"/>
<circle cx="355.75" cy="232.8" r="1.65" fill="#fff" stroke="#3c3cb8" stroke-width="0.95"/>
<text x="370.6" y="235.8" font-size="6.7" font-weight="bold" fill="#1e1e1e" stroke="#1e1e1e" stroke-width="0.2" textLength="18.3" lengthAdjust="spacingAndGlyphs">RSE0.5</text>
</g>
<g>
<path d="M239.4 371.4H396.2V514.9" fill="none" stroke="#7a7a7a" stroke-width="1.1"/>
<path d="M239.4 371.4V514.9H396.2" fill="none" stroke="#555" stroke-width="1.15"/>
<path d="M236 371.4H239.4M236 391.9H239.4M236 412.4H239.4M236 432.9H239.4M236 453.4H239.4M236 473.9H239.4M236 494.4H239.4M236 514.9H239.4M249 514.9V518.8M268.58 514.9V518.8M288.16 514.9V518.8M307.74 514.9V518.8M327.32 514.9V518.8M346.9 514.9V518.8M366.48 514.9V518.8M386.06 514.9V518.8" stroke="#555" stroke-width="1.1"/>
<text transform="translate(234.2 371.4) scale(1 0.92)" y="2.94" text-anchor="end" font-size="8.2" font-weight="bold" fill="#1e1e1e" stroke="#1e1e1e" stroke-width="0.25">6</text>
<text transform="translate(234.2 391.9) scale(1 0.92)" y="2.94" text-anchor="end" font-size="8.2" font-weight="bold" fill="#1e1e1e" stroke="#1e1e1e" stroke-width="0.25">5</text>
<text transform="translate(234.2 412.4) scale(1 0.92)" y="2.94" text-anchor="end" font-size="8.2" font-weight="bold" fill="#1e1e1e" stroke="#1e1e1e" stroke-width="0.25">4</text>
<text transform="translate(234.2 432.9) scale(1 0.92)" y="2.94" text-anchor="end" font-size="8.2" font-weight="bold" fill="#1e1e1e" stroke="#1e1e1e" stroke-width="0.25">3</text>
<text transform="translate(234.2 453.4) scale(1 0.92)" y="2.94" text-anchor="end" font-size="8.2" font-weight="bold" fill="#1e1e1e" stroke="#1e1e1e" stroke-width="0.25">2</text>
<text transform="translate(234.2 473.9) scale(1 0.92)" y="2.94" text-anchor="end" font-size="8.2" font-weight="bold" fill="#1e1e1e" stroke="#1e1e1e" stroke-width="0.25">1</text>
<text transform="translate(234.2 494.4) scale(1 0.92)" y="2.94" text-anchor="end" font-size="8.2" font-weight="bold" fill="#1e1e1e" stroke="#1e1e1e" stroke-width="0.25">0</text>
<text transform="translate(234.2 514.9) scale(1 0.92)" y="2.94" text-anchor="end" font-size="8.2" font-weight="bold" fill="#1e1e1e" stroke="#1e1e1e" stroke-width="0.25">-1</text>
<text transform="translate(249 525.06) scale(1 0.92)" y="2.94" text-anchor="middle" font-size="8.2" font-weight="bold" fill="#1e1e1e" stroke="#1e1e1e" stroke-width="0.25">0</text>
<text transform="translate(268.58 525.06) scale(1 0.92)" y="2.94" text-anchor="middle" font-size="8.2" font-weight="bold" fill="#1e1e1e" stroke="#1e1e1e" stroke-width="0.25">2</text>
<text transform="translate(288.16 525.06) scale(1 0.92)" y="2.94" text-anchor="middle" font-size="8.2" font-weight="bold" fill="#1e1e1e" stroke="#1e1e1e" stroke-width="0.25">4</text>
<text transform="translate(307.74 525.06) scale(1 0.92)" y="2.94" text-anchor="middle" font-size="8.2" font-weight="bold" fill="#1e1e1e" stroke="#1e1e1e" stroke-width="0.25">6</text>
<text transform="translate(327.32 525.06) scale(1 0.92)" y="2.94" text-anchor="middle" font-size="8.2" font-weight="bold" fill="#1e1e1e" stroke="#1e1e1e" stroke-width="0.25">8</text>
<text transform="translate(346.9 525.06) scale(1 0.92)" y="2.94" text-anchor="middle" font-size="8.2" font-weight="bold" fill="#1e1e1e" stroke="#1e1e1e" stroke-width="0.25">10</text>
<text transform="translate(366.48 525.06) scale(1 0.92)" y="2.94" text-anchor="middle" font-size="8.2" font-weight="bold" fill="#1e1e1e" stroke="#1e1e1e" stroke-width="0.25">12</text>
<text transform="translate(386.06 525.06) scale(1 0.92)" y="2.94" text-anchor="middle" font-size="8.2" font-weight="bold" fill="#1e1e1e" stroke="#1e1e1e" stroke-width="0.25">14</text>
<text x="317.7" y="542.4" text-anchor="middle" font-size="8.9" font-weight="bold" fill="#1e1e1e" stroke="#1e1e1e" stroke-width="0.15">Storage time (day)</text>
<text transform="translate(221.4 444) rotate(-90)" text-anchor="middle" font-size="8.8" font-weight="bold" fill="#1e1e1e" stroke="#1e1e1e" stroke-width="0.15">Amylopectin melting enthalpy (<tspan font-weight="normal">&#916;</tspan>H<tspan font-size="6" dy="2">r</tspan><tspan dy="-2">)</tspan></text>
<text transform="translate(243 382.9) scale(0.93 0.88)" font-size="8.4" font-weight="bold" fill="#1e1e1e" stroke="#1e1e1e" stroke-width="0.2">(F) RSE-<tspan font-weight="normal" font-size="7.2">&#916;</tspan>H<tspan font-size="5.2" dy="1.5">r</tspan></text>
<polyline points="249,491.6 258.79,485.4 268.58,473 278.37,467.9 288.16,451.1 297.95,438.6 337.11,419.6 386.06,406.8" fill="none" stroke="#5252c0" stroke-width="1.05"/>
<path d="M249 490.1V493.1M247.7 490.1H250.3M247.7 493.1H250.3M258.79 479.1V491.7M257.49 479.1H260.09M257.49 491.7H260.09M268.58 468V478M267.28 468H269.88M267.28 478H269.88M278.37 454.2V481.6M277.07 454.2H279.67M277.07 481.6H279.67M288.16 448.1V454.1M286.86 448.1H289.46M286.86 454.1H289.46M297.95 428.6V448.6M296.65 428.6H299.25M296.65 448.6H299.25M337.11 409.6V429.6M335.81 409.6H338.41M335.81 429.6H338.41M386.06 403.8V409.8M384.76 403.8H387.36M384.76 409.8H387.36" stroke="#3c3cb8" stroke-width="0.9" fill="none"/>
<circle cx="249" cy="491.6" r="1.65" fill="#fff" stroke="#3c3cb8" stroke-width="0.95"/>
<circle cx="258.79" cy="485.4" r="1.65" fill="#fff" stroke="#3c3cb8" stroke-width="0.95"/>
<circle cx="268.58" cy="473" r="1.65" fill="#fff" stroke="#3c3cb8" stroke-width="0.95"/>
<circle cx="278.37" cy="467.9" r="1.65" fill="#fff" stroke="#3c3cb8" stroke-width="0.95"/>
<circle cx="288.16" cy="451.1" r="1.65" fill="#fff" stroke="#3c3cb8" stroke-width="0.95"/>
<circle cx="297.95" cy="438.6" r="1.65" fill="#fff" stroke="#3c3cb8" stroke-width="0.95"/>
<circle cx="337.11" cy="419.6" r="1.65" fill="#fff" stroke="#3c3cb8" stroke-width="0.95"/>
<circle cx="386.06" cy="406.8" r="1.65" fill="#fff" stroke="#3c3cb8" stroke-width="0.95"/>
<polyline points="249,492.1 258.79,486 268.58,480.2 278.37,467.9 288.16,448.6 297.95,439.1 337.11,409.6 386.06,404.4" fill="none" stroke="#44a850" stroke-width="1.05"/>
<path d="M249 490.6V493.6M247.7 490.6H250.3M247.7 493.6H250.3M258.79 484V488M257.49 484H260.09M257.49 488H260.09M268.58 476V484.4M267.28 476H269.88M267.28 484.4H269.88M278.37 456.9V478.9M277.07 456.9H279.67M277.07 478.9H279.67M288.16 439.6V457.6M286.86 439.6H289.46M286.86 457.6H289.46M297.95 431.1V447.1M296.65 431.1H299.25M296.65 447.1H299.25M337.11 407.6V411.6M335.81 407.6H338.41M335.81 411.6H338.41M386.06 393.4V415.4M384.76 393.4H387.36M384.76 415.4H387.36" stroke="#2ea03a" stroke-width="0.9" fill="none"/>
<circle cx="249" cy="492.1" r="1.65" fill="#fff" stroke="#2ea03a" stroke-width="0.95"/>
<circle cx="258.79" cy="486" r="1.65" fill="#fff" stroke="#2ea03a" stroke-width="0.95"/>
<circle cx="268.58" cy="480.2" r="1.65" fill="#fff" stroke="#2ea03a" stroke-width="0.95"/>
<circle cx="278.37" cy="467.9" r="1.65" fill="#fff" stroke="#2ea03a" stroke-width="0.95"/>
<circle cx="288.16" cy="448.6" r="1.65" fill="#fff" stroke="#2ea03a" stroke-width="0.95"/>
<circle cx="297.95" cy="439.1" r="1.65" fill="#fff" stroke="#2ea03a" stroke-width="0.95"/>
<circle cx="337.11" cy="409.6" r="1.65" fill="#fff" stroke="#2ea03a" stroke-width="0.95"/>
<circle cx="386.06" cy="404.4" r="1.65" fill="#fff" stroke="#2ea03a" stroke-width="0.95"/>
<polyline points="249,492.8 258.79,479.9 268.58,459.8 278.37,442.3 288.16,421 297.95,418.7 337.11,410.6 386.06,407.8" fill="none" stroke="#d85656" stroke-width="1.05"/>
<path d="M249 491.3V494.3M247.7 491.3H250.3M247.7 494.3H250.3M258.79 477.4V482.4M257.49 477.4H260.09M257.49 482.4H260.09M268.58 451.8V467.8M267.28 451.8H269.88M267.28 467.8H269.88M278.37 431.8V452.8M277.07 431.8H279.67M277.07 452.8H279.67M288.16 418V424M286.86 418H289.46M286.86 424H289.46M297.95 406.7V430.7M296.65 406.7H299.25M296.65 430.7H299.25M337.11 405V416.2M335.81 405H338.41M335.81 416.2H338.41M386.06 397.8V417.8M384.76 397.8H387.36M384.76 417.8H387.36" stroke="#d63a3a" stroke-width="0.9" fill="none"/>
<circle cx="249" cy="492.8" r="1.65" fill="#fff" stroke="#d63a3a" stroke-width="0.95"/>
<circle cx="258.79" cy="479.9" r="1.65" fill="#fff" stroke="#d63a3a" stroke-width="0.95"/>
<circle cx="268.58" cy="459.8" r="1.65" fill="#fff" stroke="#d63a3a" stroke-width="0.95"/>
<circle cx="278.37" cy="442.3" r="1.65" fill="#fff" stroke="#d63a3a" stroke-width="0.95"/>
<circle cx="288.16" cy="421" r="1.65" fill="#fff" stroke="#d63a3a" stroke-width="0.95"/>
<circle cx="297.95" cy="418.7" r="1.65" fill="#fff" stroke="#d63a3a" stroke-width="0.95"/>
<circle cx="337.11" cy="410.6" r="1.65" fill="#fff" stroke="#d63a3a" stroke-width="0.95"/>
<circle cx="386.06" cy="407.8" r="1.65" fill="#fff" stroke="#d63a3a" stroke-width="0.95"/>
<polyline points="249,491 258.79,483.4 268.58,471.5 278.37,442.3 288.16,421.2 297.95,418 337.11,399.3 386.06,382.9" fill="none" stroke="#333333" stroke-width="1.05"/>
<path d="M249 489.5V492.5M247.7 489.5H250.3M247.7 492.5H250.3M258.79 481.4V485.4M257.49 481.4H260.09M257.49 485.4H260.09M268.58 465.9V477.1M267.28 465.9H269.88M267.28 477.1H269.88M278.37 440.3V444.3M277.07 440.3H279.67M277.07 444.3H279.67M288.16 413.7V428.7M286.86 413.7H289.46M286.86 428.7H289.46M297.95 412V424M296.65 412H299.25M296.65 424H299.25M337.11 393.5V405.1M335.81 393.5H338.41M335.81 405.1H338.41M386.06 376.4V389.4M384.76 376.4H387.36M384.76 389.4H387.36" stroke="#000000" stroke-width="0.9" fill="none"/>
<circle cx="249" cy="491" r="1.6" fill="#000000"/>
<circle cx="258.79" cy="483.4" r="1.6" fill="#000000"/>
<circle cx="268.58" cy="471.5" r="1.6" fill="#000000"/>
<circle cx="278.37" cy="442.3" r="1.6" fill="#000000"/>
<circle cx="288.16" cy="421.2" r="1.6" fill="#000000"/>
<circle cx="297.95" cy="418" r="1.6" fill="#000000"/>
<circle cx="337.11" cy="399.3" r="1.6" fill="#000000"/>
<circle cx="386.06" cy="382.9" r="1.6" fill="#000000"/>
<path d="M349.6 472.2H363.5" stroke="#333333" stroke-width="1.1"/>
<circle cx="356.55" cy="472.2" r="1.6" fill="#000000"/>
<text x="371.5" y="475.2" font-size="6.7" font-weight="bold" fill="#1e1e1e" stroke="#1e1e1e" stroke-width="0.2" textLength="19.7" lengthAdjust="spacingAndGlyphs">Control</text>
<path d="M349.6 483.1H363.5" stroke="#d85656" stroke-width="1.1"/>
<circle cx="356.55" cy="483.1" r="1.65" fill="#fff" stroke="#d63a3a" stroke-width="0.95"/>
<text x="371.5" y="486.1" font-size="6.7" font-weight="bold" fill="#1e1e1e" stroke="#1e1e1e" stroke-width="0.2" textLength="18.3" lengthAdjust="spacingAndGlyphs">RSE0.1</text>
<path d="M349.6 494.7H363.5" stroke="#44a850" stroke-width="1.1"/>
<circle cx="356.55" cy="494.7" r="1.65" fill="#fff" stroke="#2ea03a" stroke-width="0.95"/>
<text x="371.5" y="497.7" font-size="6.7" font-weight="bold" fill="#1e1e1e" stroke="#1e1e1e" stroke-width="0.2" textLength="18.3" lengthAdjust="spacingAndGlyphs">RSE0.3</text>
<path d="M349.6 505.9H363.5" stroke="#5252c0" stroke-width="1.1"/>
<circle cx="356.55" cy="505.9" r="1.65" fill="#fff" stroke="#3c3cb8" stroke-width="0.95"/>
<text x="371.5" y="508.9" font-size="6.7" font-weight="bold" fill="#1e1e1e" stroke="#1e1e1e" stroke-width="0.2" textLength="18.3" lengthAdjust="spacingAndGlyphs">RSE0.5</text>
</g>
<path d="M254 55.4H341.7V135.5" fill="none" stroke="#8a8a8a" stroke-width="0.8"/>
<path d="M254 55.4V135.5H341.7" fill="none" stroke="#555" stroke-width="0.9"/>
<path d="M251.8 72.3H254M251.8 100.85H254M251.8 129.4H254M259.4 135.5V137.7M270.24 135.5V137.7M281.08 135.5V137.7M291.92 135.5V137.7M302.76 135.5V137.7M313.6 135.5V137.7M324.44 135.5V137.7M335.28 135.5V137.7" stroke="#555" stroke-width="0.8"/>
<text x="251.4" y="73.9" text-anchor="end" font-size="4.6" font-weight="bold" fill="#222" stroke="#222" stroke-width="0.15">-2</text>
<text x="251.4" y="102.45" text-anchor="end" font-size="4.6" font-weight="bold" fill="#222" stroke="#222" stroke-width="0.15">-3</text>
<text x="251.4" y="131" text-anchor="end" font-size="4.6" font-weight="bold" fill="#222" stroke="#222" stroke-width="0.15">-4</text>
<path d="M252.7 60.88H254M252.7 66.59H254M252.7 78.01H254M252.7 83.72H254M252.7 89.43H254M252.7 95.14H254M252.7 106.56H254M252.7 112.27H254M252.7 117.98H254M252.7 123.69H254M252.7 135.11H254" stroke="#555" stroke-width="0.7"/>
<text x="259.4" y="142.8" text-anchor="middle" font-size="5" font-weight="bold" fill="#222" stroke="#222" stroke-width="0.15">0</text>
<text x="270.24" y="142.8" text-anchor="middle" font-size="5" font-weight="bold" fill="#222" stroke="#222" stroke-width="0.15">2</text>
<text x="281.08" y="142.8" text-anchor="middle" font-size="5" font-weight="bold" fill="#222" stroke="#222" stroke-width="0.15">4</text>
<text x="291.92" y="142.8" text-anchor="middle" font-size="5" font-weight="bold" fill="#222" stroke="#222" stroke-width="0.15">6</text>
<text x="302.76" y="142.8" text-anchor="middle" font-size="5" font-weight="bold" fill="#222" stroke="#222" stroke-width="0.15">8</text>
<text x="313.6" y="142.8" text-anchor="middle" font-size="5" font-weight="bold" fill="#222" stroke="#222" stroke-width="0.15">10</text>
<text x="324.44" y="142.8" text-anchor="middle" font-size="5" font-weight="bold" fill="#222" stroke="#222" stroke-width="0.15">12</text>
<text x="335.28" y="142.8" text-anchor="middle" font-size="5" font-weight="bold" fill="#222" stroke="#222" stroke-width="0.15">14</text>
<text x="297.8" y="150.0" text-anchor="middle" font-size="4.9" font-weight="bold" fill="#222" stroke="#222" stroke-width="0.12">Storage time (day)</text>
<polyline points="259.4,123.3 264.82,117.3 270.24,95.6 275.66,89.6 281.08,85.8 286.5,91 308.18,85.6 335.28,77.6" fill="none" stroke="#5252c0" stroke-width="0.9"/>
<path d="M259.4 118.3V128.3M258.6 118.3H260.2M258.6 128.3H260.2M264.82 107.3V127.3M264.02 107.3H265.62M264.02 127.3H265.62M270.24 92.6V98.6M269.44 92.6H271.04M269.44 98.6H271.04M275.66 78.6V100.6M274.86 78.6H276.46M274.86 100.6H276.46M281.08 82.8V88.8M280.28 82.8H281.88M280.28 88.8H281.88M286.5 86V96M285.7 86H287.3M285.7 96H287.3M308.18 82.6V88.6M307.38 82.6H308.98M307.38 88.6H308.98M335.28 74.6V80.6M334.48 74.6H336.08M334.48 80.6H336.08" stroke="#3c3cb8" stroke-width="0.7" fill="none" opacity="0.9"/>
<circle cx="259.4" cy="123.3" r="0.8" fill="#fff" stroke="#3c3cb8" stroke-width="0.5"/>
<circle cx="264.82" cy="117.3" r="0.8" fill="#fff" stroke="#3c3cb8" stroke-width="0.5"/>
<circle cx="270.24" cy="95.6" r="0.8" fill="#fff" stroke="#3c3cb8" stroke-width="0.5"/>
<circle cx="275.66" cy="89.6" r="0.8" fill="#fff" stroke="#3c3cb8" stroke-width="0.5"/>
<circle cx="281.08" cy="85.8" r="0.8" fill="#fff" stroke="#3c3cb8" stroke-width="0.5"/>
<circle cx="286.5" cy="91" r="0.8" fill="#fff" stroke="#3c3cb8" stroke-width="0.5"/>
<circle cx="308.18" cy="85.6" r="0.8" fill="#fff" stroke="#3c3cb8" stroke-width="0.5"/>
<circle cx="335.28" cy="77.6" r="0.8" fill="#fff" stroke="#3c3cb8" stroke-width="0.5"/>
<polyline points="259.4,118.1 264.82,112.5 270.24,105.5 275.66,97.4 281.08,85.8 286.5,86 308.18,84.8 335.28,75.3" fill="none" stroke="#44a850" stroke-width="0.9"/>
<path d="M259.4 115.1V121.1M258.6 115.1H260.2M258.6 121.1H260.2M264.82 109.5V115.5M264.02 109.5H265.62M264.02 115.5H265.62M270.24 102.5V108.5M269.44 102.5H271.04M269.44 108.5H271.04M275.66 94.4V100.4M274.86 94.4H276.46M274.86 100.4H276.46M281.08 82.8V88.8M280.28 82.8H281.88M280.28 88.8H281.88M286.5 83V89M285.7 83H287.3M285.7 89H287.3M308.18 81.8V87.8M307.38 81.8H308.98M307.38 87.8H308.98M335.28 72.3V78.3M334.48 72.3H336.08M334.48 78.3H336.08" stroke="#2ea03a" stroke-width="0.7" fill="none" opacity="0.9"/>
<circle cx="259.4" cy="118.1" r="0.8" fill="#fff" stroke="#2ea03a" stroke-width="0.5"/>
<circle cx="264.82" cy="112.5" r="0.8" fill="#fff" stroke="#2ea03a" stroke-width="0.5"/>
<circle cx="270.24" cy="105.5" r="0.8" fill="#fff" stroke="#2ea03a" stroke-width="0.5"/>
<circle cx="275.66" cy="97.4" r="0.8" fill="#fff" stroke="#2ea03a" stroke-width="0.5"/>
<circle cx="281.08" cy="85.8" r="0.8" fill="#fff" stroke="#2ea03a" stroke-width="0.5"/>
<circle cx="286.5" cy="86" r="0.8" fill="#fff" stroke="#2ea03a" stroke-width="0.5"/>
<circle cx="308.18" cy="84.8" r="0.8" fill="#fff" stroke="#2ea03a" stroke-width="0.5"/>
<circle cx="335.28" cy="75.3" r="0.8" fill="#fff" stroke="#2ea03a" stroke-width="0.5"/>
<polyline points="259.4,120.7 264.82,109.3 270.24,103.5 275.66,89.6 281.08,85.8 286.5,85.8 308.18,84.5 335.28,69.2" fill="none" stroke="#d85656" stroke-width="0.9"/>
<path d="M259.4 114.7V126.7M258.6 114.7H260.2M258.6 126.7H260.2M264.82 99.3V119.3M264.02 99.3H265.62M264.02 119.3H265.62M270.24 100.5V106.5M269.44 100.5H271.04M269.44 106.5H271.04M275.66 80.6V98.6M274.86 80.6H276.46M274.86 98.6H276.46M281.08 74.8V96.8M280.28 74.8H281.88M280.28 96.8H281.88M286.5 76.8V94.8M285.7 76.8H287.3M285.7 94.8H287.3M308.18 78.5V90.5M307.38 78.5H308.98M307.38 90.5H308.98M335.28 62.2V76.2M334.48 62.2H336.08M334.48 76.2H336.08" stroke="#d63a3a" stroke-width="0.7" fill="none" opacity="0.9"/>
<circle cx="259.4" cy="120.7" r="0.8" fill="#fff" stroke="#d63a3a" stroke-width="0.5"/>
<circle cx="264.82" cy="109.3" r="0.8" fill="#fff" stroke="#d63a3a" stroke-width="0.5"/>
<circle cx="270.24" cy="103.5" r="0.8" fill="#fff" stroke="#d63a3a" stroke-width="0.5"/>
<circle cx="275.66" cy="89.6" r="0.8" fill="#fff" stroke="#d63a3a" stroke-width="0.5"/>
<circle cx="281.08" cy="85.8" r="0.8" fill="#fff" stroke="#d63a3a" stroke-width="0.5"/>
<circle cx="286.5" cy="85.8" r="0.8" fill="#fff" stroke="#d63a3a" stroke-width="0.5"/>
<circle cx="308.18" cy="84.5" r="0.8" fill="#fff" stroke="#d63a3a" stroke-width="0.5"/>
<circle cx="335.28" cy="69.2" r="0.8" fill="#fff" stroke="#d63a3a" stroke-width="0.5"/>
<polyline points="259.4,111.7 264.82,109.5 270.24,107.8 275.66,99.1 281.08,85.8 286.5,86.5 308.18,85.2 335.28,80" fill="none" stroke="#333333" stroke-width="0.9"/>
<path d="M259.4 101.3V122.1M258.6 101.3H260.2M258.6 122.1H260.2M264.82 106.5V112.5M264.02 106.5H265.62M264.02 112.5H265.62M270.24 104.8V110.8M269.44 104.8H271.04M269.44 110.8H271.04M275.66 96.1V102.1M274.86 96.1H276.46M274.86 102.1H276.46M281.08 82.8V88.8M280.28 82.8H281.88M280.28 88.8H281.88M286.5 83.5V89.5M285.7 83.5H287.3M285.7 89.5H287.3M308.18 78.2V92.2M307.38 78.2H308.98M307.38 92.2H308.98M335.28 76.5V83.5M334.48 76.5H336.08M334.48 83.5H336.08" stroke="#000000" stroke-width="0.7" fill="none" opacity="0.9"/>
<circle cx="259.4" cy="111.7" r="0.9" fill="#000"/>
<circle cx="264.82" cy="109.5" r="0.9" fill="#000"/>
<circle cx="270.24" cy="107.8" r="0.9" fill="#000"/>
<circle cx="275.66" cy="99.1" r="0.9" fill="#000"/>
<circle cx="281.08" cy="85.8" r="0.9" fill="#000"/>
<circle cx="286.5" cy="86.5" r="0.9" fill="#000"/>
<circle cx="308.18" cy="85.2" r="0.9" fill="#000"/>
<circle cx="335.28" cy="80" r="0.9" fill="#000"/>
</svg>
</body></html>
